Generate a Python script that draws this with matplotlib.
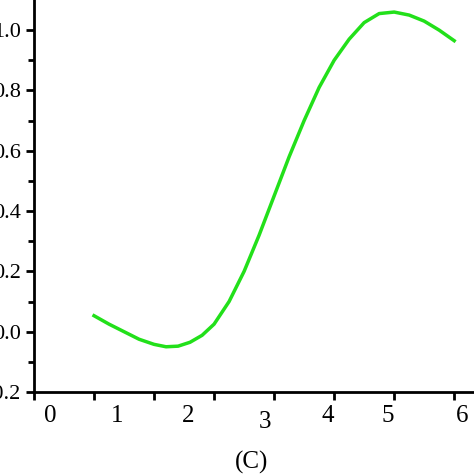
import matplotlib.pyplot as plt

# curve (x in tick units, first tick = 0)
x_vals = [1.0, 1.25, 1.5, 1.75, 2.0, 2.2, 2.4, 2.6, 2.8, 3.0, 3.25, 3.5, 3.75, 4.0,
          4.25, 4.5, 4.75, 5.0, 5.25, 5.5, 5.75, 6.0, 6.25, 6.5, 6.75, 7.0]
y_vals = [0.053, 0.025, 0.0, -0.025, -0.042, -0.05, -0.048, -0.035, -0.012, 0.025,
          0.1, 0.2, 0.32, 0.45, 0.58, 0.7, 0.81, 0.9, 0.97, 1.025, 1.055, 1.06,
          1.05, 1.03, 1.0, 0.965]

xtick_labels = ['0', '1', '2', '3', '4', '5', '6']
xlabel_pos = [0.27, 1.38, 2.57, 3.85, 4.9, 5.9, 7.13]
xlabel_dy = [0, 0, 0, 6, 0, 0, 0]
ytick_vals = [-0.2, 0.0, 0.2, 0.4, 0.6, 0.8, 1.0]
ytick_labels = ['-0.2', '0.0', '0.2', '0.4', '0.6', '0.8', '1.0']

plt.rcParams['font.family'] = 'Liberation Serif'
fig = plt.figure(figsize=(4.74, 4.74), dpi=100)
ax = fig.add_axes([34/474, 82/474, 440/474, 392/474])

ax.plot(x_vals, y_vals, color='#22e01a', linewidth=2.5)

ax.set_xlim(0, 7.33)
ax.set_ylim(-0.2, 1.1)
ax.set_xticks(range(8))
ax.set_xticklabels([])
ax.set_yticks(ytick_vals)
ax.set_yticklabels(ytick_labels, fontsize=16)
ax.set_yticks([-0.1, 0.1, 0.3, 0.5, 0.7, 0.9], minor=True)
ax.tick_params(axis='both', which='major', direction='out', length=6, width=2)
ax.tick_params(axis='y', which='minor', direction='out', length=4, width=2)
ax.spines['top'].set_visible(False)
ax.spines['right'].set_visible(False)
ax.spines['left'].set_linewidth(2)
ax.spines['bottom'].set_linewidth(2)

for lab, xp, dy in zip(xtick_labels, xlabel_pos, xlabel_dy):
    ax.annotate(lab, xy=(xp, -0.2), xycoords='data', xytext=(0, -24 - dy),
                textcoords='offset pixels', ha='center', va='center', fontsize=18,
                annotation_clip=False)
ax.annotate('(C)', xy=(3.63, -0.2), xycoords='data', xytext=(0, -70),
            textcoords='offset pixels', ha='center', va='center', fontsize=18,
            annotation_clip=False)

fig.savefig('out.png', dpi=100)
